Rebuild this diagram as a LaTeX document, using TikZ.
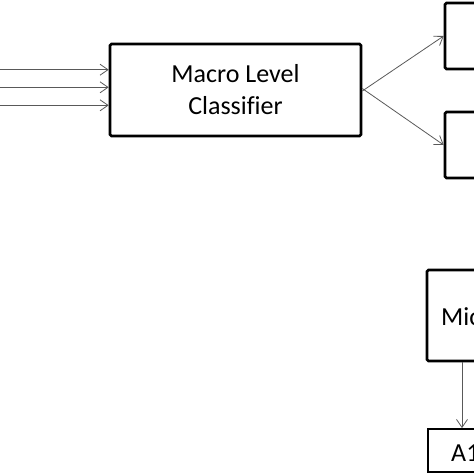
\documentclass[tikz,border=0pt]{standalone}
\usepackage{fontspec}
\setmainfont{Carlito}[Ligatures=NoCommon]
\usetikzlibrary{arrows.meta}
\begin{document}
\begin{tikzpicture}[x=1pt,y=-1pt,
  box/.style={draw=black,line width=2.6pt,rounded corners=1.5pt,inner sep=0pt,
    font=\fontsize{26}{32}\selectfont,align=center},
  thinbox/.style={draw=black,line width=1.8pt,inner sep=0pt},
  conn/.style={draw=black!65,line width=0.8pt,-{Straight Barb[length=8pt,width=11pt,line width=0.8pt]}},
  lbl/.style={font=\fontsize{26}{32}\selectfont,inner sep=0pt,anchor=base west}]
\useasboundingbox (0,0) rectangle (474,474);
\clip (0,0) rectangle (474,474);
% macro classifier
\node[box,minimum width=251pt,minimum height=92pt] (macro) at (235.5,90) {Macro Level\\Classifier};
% right boxes
\node[box,minimum width=120pt,minimum height=66pt] (top) at (505,36) {};
\node[box,minimum width=120pt,minimum height=66pt] (bot) at (505,145) {};
% micro box
\node[box,minimum width=200pt,minimum height=91pt] (micro) at (527,315.5) {};
\node[lbl] (microtxt) at (441,325) {Micro};
% A1 box
\node[thinbox,minimum width=200pt,minimum height=43pt] (a1) at (528,450.5) {};
\node[lbl] (a1txt) at (451,461) {A1};
% inputs
\coordinate (in1) at (-2,69.7);
\coordinate (in2) at (-2,87.3);
\coordinate (in3) at (-2,105.3);
\draw[conn] (in1) -- (in1 -| macro.west);
\draw[conn] (in2) -- (in2 -| macro.west);
\draw[conn] (in3) -- (in3 -| macro.west);
% outputs
\draw[conn] ([yshift=-1pt]macro.east) -- (top.west);
\draw[conn] ([yshift=1.5pt]macro.east) -- (bot.west);
\draw[conn] (micro.south -| 462,0) -- (a1.north -| 462,0);
\end{tikzpicture}
\end{document}
